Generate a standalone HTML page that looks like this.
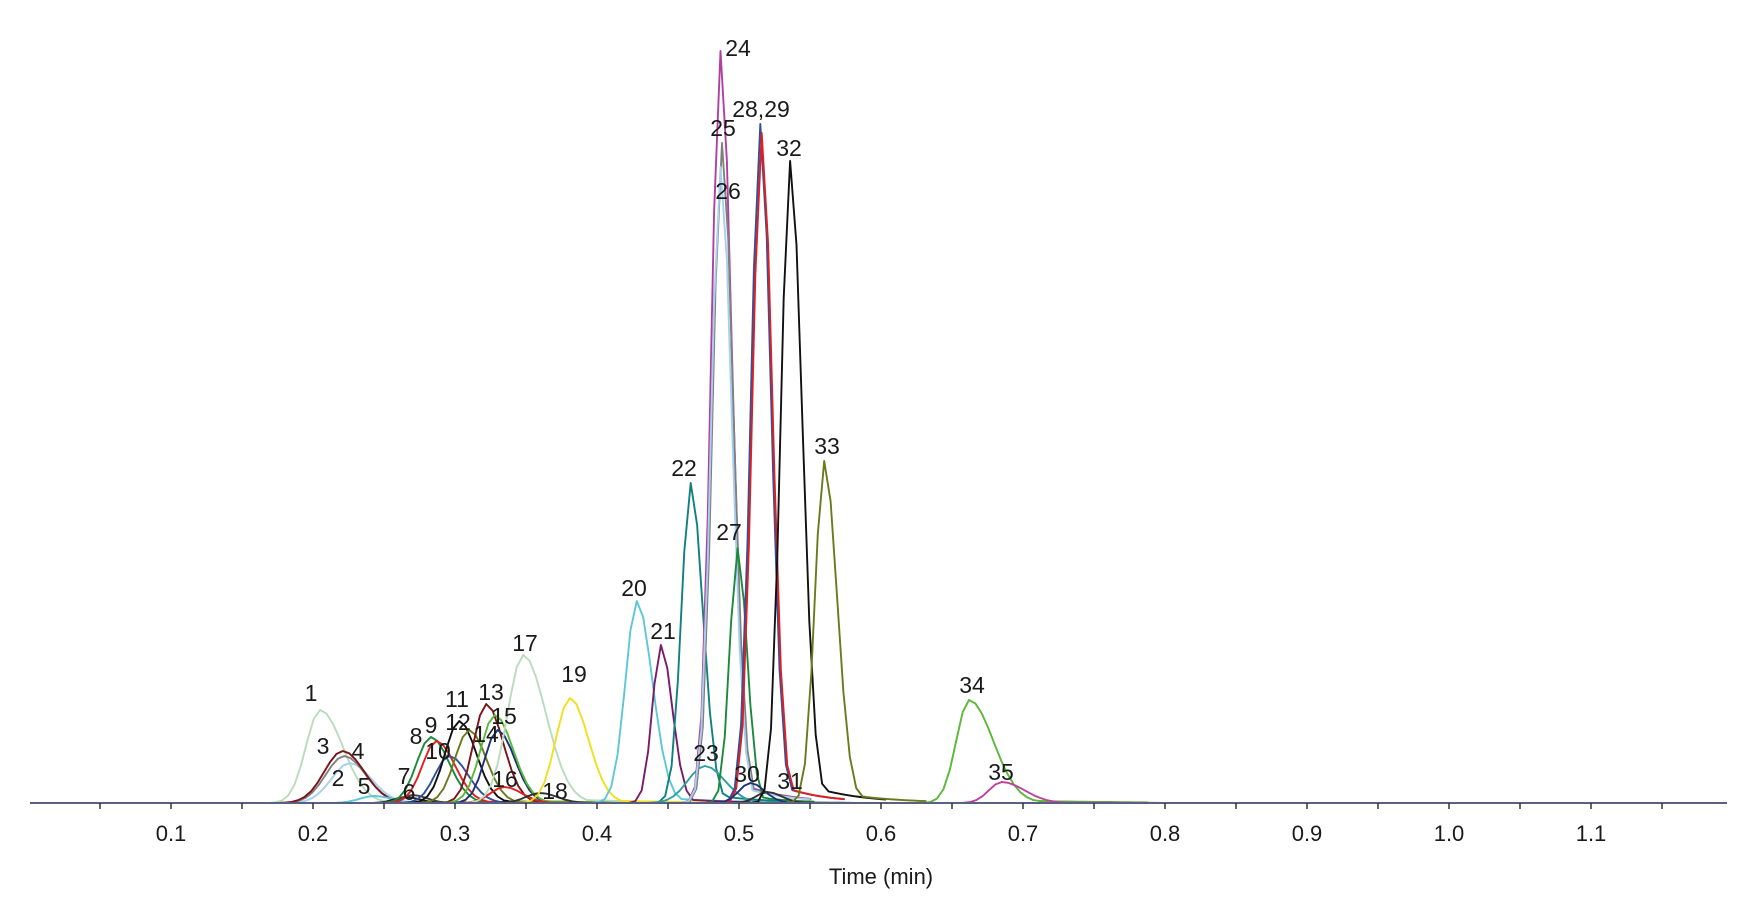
<!DOCTYPE html>
<html><head><meta charset="utf-8"><style>
html,body{margin:0;padding:0;background:#fff;}
svg{display:block;}
text{font-family:"Liberation Sans Narrow","Liberation Sans",sans-serif;fill:#1a1a1a;}
.lb{font-size:23px;text-anchor:middle;}
.tk{font-size:22px;text-anchor:middle;}
</style></head><body>
<svg id="s" width="1764" height="904" viewBox="0 0 1764 904" xmlns="http://www.w3.org/2000/svg">
<g id="curves" fill="none" stroke-width="1.9" stroke-linejoin="round"></g>
<line x1="30" y1="803" x2="1727" y2="803" stroke="#5a6080" stroke-width="2"/>
<g id="ticks" stroke="#333" stroke-width="1.5"></g>
<g class="tk">
<text x="171" y="841">0.1</text><text x="313" y="841">0.2</text><text x="455" y="841">0.3</text>
<text x="597" y="841">0.4</text><text x="739" y="841">0.5</text><text x="881" y="841">0.6</text>
<text x="1023" y="841">0.7</text><text x="1165" y="841">0.8</text><text x="1307" y="841">0.9</text>
<text x="1449" y="841">1.0</text><text x="1591" y="841">1.1</text>
</g>
<text class="tk" x="881" y="884">Time (min)</text>
<g class="lb">
<text x="311" y="701">1</text><text x="338" y="786">2</text><text x="323" y="754">3</text>
<text x="358" y="759">4</text><text x="364" y="794">5</text><text x="409" y="800">6</text>
<text x="404" y="784">7</text><text x="416" y="744">8</text><text x="431" y="733">9</text>
<text x="438" y="759">10</text><text x="457" y="707">11</text><text x="458" y="730">12</text>
<text x="491" y="700">13</text><text x="486" y="742">14</text><text x="504" y="724">15</text>
<text x="505" y="787">16</text><text x="525" y="651">17</text><text x="555" y="799">18</text>
<text x="574" y="682">19</text><text x="634" y="596">20</text><text x="663" y="639">21</text>
<text x="684" y="476">22</text><text x="706" y="761">23</text><text x="738" y="56">24</text>
<text x="723" y="136">25</text><text x="728" y="199">26</text><text x="729" y="540">27</text>
<text x="761" y="117">28,29</text><text x="747" y="782">30</text><text x="790" y="789">31</text>
<text x="789" y="156">32</text><text x="827" y="454">33</text><text x="972" y="693">34</text>
<text x="1001" y="780">35</text>
</g>
</svg>
<script>
var X=function(t){return 171+(t-0.1)*1420;};
var B=803;
var ns="http://www.w3.org/2000/svg";
var tg=document.getElementById('ticks');
for(var t=0.05;t<1.2;t+=0.05){var l=document.createElementNS(ns,'line');var x=X(t);l.setAttribute('x1',x);l.setAttribute('x2',x);l.setAttribute('y1',B);l.setAttribute('y2',B+6);tg.appendChild(l);}
var P=[
[0.205,93,0.010,0.016,'#b9dcbc'],
[0.226,40,0.013,0.015,'#a8cfee'],
[0.222,47,0.013,0.015,'#808080'],
[0.221,52,0.013,0.015,'#7a1418'],
[0.243,7,0.010,0.012,'#5bc8d8'],
[0.265,6,0.008,0.010,'#222'],
[0.270,8,0.008,0.010,'#444'],
[0.283,66,0.010,0.013,'#1a8a3a'],
[0.287,62,0.010,0.013,'#e02020'],
[0.296,47,0.010,0.013,'#3050a0'],
[0.303,82,0.010,0.012,'#111'],
[0.310,73,0.010,0.012,'#6b7a1a'],
[0.322,99,0.009,0.012,'#7a1418'],
[0.330,73,0.009,0.012,'#20307a'],
[0.328,88,0.010,0.013,'#5ab83a'],
[0.335,16,0.010,0.012,'#e02020'],
[0.348,148,0.011,0.016,'#b9dcbc'],
[0.360,10,0.010,0.012,'#333'],
[0.381,105,0.010,0.013,'#f0e020'],
[0.428,202,0.008,0.011,'#5bc8d8'],
[0.445,158,0.006,0.008,'#7a1a6a'],
[0.466,320,0.0065,0.0085,'#108080'],
[0.476,37,0.012,0.014,'#30a0a0'],
[0.487,752,0.0065,0.008,'#b040a0'],
[0.488,660,0.0065,0.008,'#808080'],
[0.487,636,0.0065,0.008,'#a8cfee'],
[0.499,255,0.0055,0.0065,'#1a8a3a'],
[0.515,679,0.0065,0.0075,'#3050a0'],
[0.516,670,0.0065,0.0075,'#e02020'],
[0.508,20,0.008,0.010,'#20307a'],
[0.520,11,0.008,0.010,'#333'],
[0.536,642,0.0065,0.0085,'#111'],
[0.560,342,0.0065,0.009,'#6b7a1a'],
[0.662,103,0.009,0.017,'#5ab83a'],
[0.685,21,0.009,0.016,'#c040a0']
];
var g=document.getElementById('curves');
P.forEach(function(p){
 var d='';var st=0.0045;
 var kmin=Math.floor(-6*p[2]/st), kmax=Math.ceil(7*p[3]/st)+1;
 for(var k=kmin;k<=kmax;k++){
  var t=p[0]+k*st;
  var s=t<p[0]?p[2]:p[3];
  var f=Math.exp(-0.5*Math.pow((t-p[0])/s,2));
  if(t>p[0]) f=Math.max(f,0.04*Math.exp(-(t-p[0])/(4*p[3])));
  var y=B-p[1]*f;
  d+=(d?'L':'M')+X(t).toFixed(1)+','+y.toFixed(1);
 }
 var e=document.createElementNS(ns,'path');e.setAttribute('d',d);e.setAttribute('stroke',p[4]);g.appendChild(e);
});
</script>
</body></html>
